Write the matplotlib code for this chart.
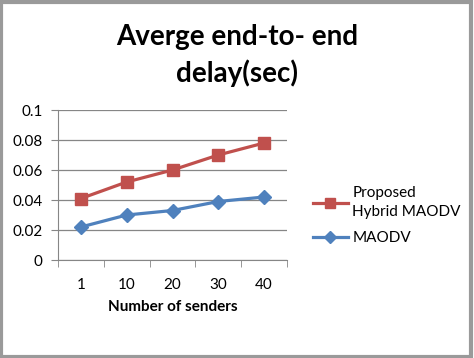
import matplotlib.pyplot as plt
from matplotlib.patches import Rectangle
from matplotlib.lines import Line2D

senders = ["1", "10", "20", "30", "40"]
hybrid_maodv = [0.041, 0.052, 0.060, 0.070, 0.078]
maodv = [0.022, 0.030, 0.033, 0.039, 0.042]
y_ticks = [0, 0.02, 0.04, 0.06, 0.08, 0.1]
y_labels = ["0", "0.02", "0.04", "0.06", "0.08", "0.1"]

plt.rcParams['font.family'] = ['Lato', 'DejaVu Sans']

fig = plt.figure(figsize=(4.74, 3.58), dpi=100)
ax = fig.add_axes([58 / 474, 98 / 358, 229 / 474, 150 / 358])

x = list(range(len(senders)))
ax.plot(x, hybrid_maodv, color="#C0504D", lw=2.3, marker="s", ms=9,
        label="Proposed\nHybrid MAODV")
ax.plot(x, maodv, color="#4F81BD", lw=2.3, marker="D", ms=7.5,
        label="MAODV")

ax.set_xlim(-0.5, len(senders) - 0.5)
ax.set_ylim(0, 0.1)
ax.set_yticks(y_ticks)
ax.set_yticklabels(y_labels, fontsize=11)
ax.set_xticks(x)
ax.set_xticklabels(senders, fontsize=11)
ax.set_xticks([i - 0.5 for i in range(len(senders) + 1)], minor=True)
ax.tick_params(axis="x", which="major", length=0, pad=13)
ax.tick_params(axis="x", which="minor", length=5, color="#868686")
ax.tick_params(axis="y", length=5, color="#868686", pad=6)
ax.grid(axis="y", color="#868686", lw=0.9)
ax.set_axisbelow(True)
for side in ["top", "right"]:
    ax.spines[side].set_visible(False)
for side in ["left", "bottom"]:
    ax.spines[side].set_color("#868686")

ax.set_xlabel("Number of senders", fontsize=11, fontweight="bold", labelpad=6)

fig.text(0.5, 0.845, "Averge end-to- end\ndelay(sec)", ha="center", va="center",
         fontsize=20, fontweight="bold", linespacing=1.4)

handles = [
    Line2D([], [], color="#C0504D", lw=2.3, marker="s", ms=7),
    Line2D([], [], color="#4F81BD", lw=2.3, marker="D", ms=6),
]
leg = fig.legend(handles, ["Proposed\nHybrid MAODV", "MAODV"], loc="upper left",
                 bbox_to_anchor=(299 / 474, 1 - 172 / 358), frameon=False,
                 fontsize=11, handlelength=2.3, handletextpad=0.3, labelspacing=0.8)
for t in leg.get_texts():
    t.set_linespacing(1.5)

fig.patches.append(Rectangle((0.002, 0.002), 0.992, 0.993, transform=fig.transFigure,
                             fill=False, edgecolor="#9a9a9a", lw=3))

fig.savefig("out.png", dpi=100)
